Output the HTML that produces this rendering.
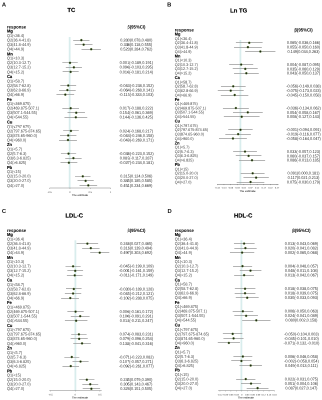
<!DOCTYPE html><html><head><meta charset="utf-8"><style>html,body{margin:0;padding:0;background:#fff;overflow:hidden;width:322px;height:400px}svg{display:block}text{font-family:'Liberation Sans', Arial, sans-serif;text-rendering:geometricPrecision}#wrap{position:absolute;left:0;top:0;width:644px;height:800px;transform:scale(0.5);transform-origin:0 0;will-change:transform}</style></head><body>
<div id="wrap">
<svg width="644" height="800" viewBox="0 0 644 800">
<rect width="644" height="800" fill="#fff"/>
<g>
<g transform="matrix(0.2,0,0,0.2,0,0)">
<g><text x="19" y="66" font-size="58" font-weight="bold" fill="#111">A</text><text x="713" y="121" font-size="59" font-weight="bold" fill="#000" text-anchor="middle" stroke="#000" stroke-width="1.5">TC</text><text transform="translate(70,282.7) scale(0.9259,1)" font-size="46.4" font-weight="bold" fill="#000">response</text><text transform="translate(1363,282.7) scale(0.9259,1)" font-size="46.4" font-weight="bold" fill="#000" text-anchor="middle">&#946;(95%CI)</text><line x1="696.6" y1="370" x2="696.6" y2="1880" stroke="#d9eded" stroke-width="18"/><text transform="translate(70,327) scale(0.9259,1)" font-size="43.2" font-weight="bold" fill="#000" stroke="#000" stroke-width="1.2">Mg</text><text transform="translate(70,369.6) scale(0.9259,1)" font-size="41" fill="#3a3a3a">Q1(&lt;36.4)</text><text transform="translate(70,415) scale(0.9259,1)" font-size="41" fill="#3a3a3a">Q2(36.4-41.8)</text><line x1="731.5" y1="405" x2="894.8" y2="405" stroke="#9a9a9a" stroke-width="6.5"/><circle cx="813.5" cy="401.2" r="11" fill="#1c2614" stroke="#8db35a" stroke-width="3"/><text transform="translate(1363,415) scale(0.9259,1)" font-size="41" fill="#2a2a2a" text-anchor="middle">0.280(0.078,0.480)</text><text transform="translate(70,460.4) scale(0.9259,1)" font-size="41" fill="#3a3a3a">Q3(41.8-44.9)</text><line x1="747.7" y1="445" x2="925.2" y2="445" stroke="#9a9a9a" stroke-width="6.5"/><circle cx="836.3" cy="446.6" r="11" fill="#1c2614" stroke="#8db35a" stroke-width="3"/><text transform="translate(1363,460.4) scale(0.9259,1)" font-size="41" fill="#2a2a2a" text-anchor="middle">0.336(0.118,0.555)</text><text transform="translate(70,505.8) scale(0.9259,1)" font-size="41" fill="#3a3a3a">Q4(&gt;44.9)</text><line x1="815.2" y1="495" x2="1009.3" y2="495" stroke="#9a9a9a" stroke-width="6.5"/><circle cx="912.2" cy="492" r="11" fill="#1c2614" stroke="#8db35a" stroke-width="3"/><text transform="translate(1363,505.8) scale(0.9259,1)" font-size="41" fill="#2a2a2a" text-anchor="middle">0.523(0.284,0.762)</text><text transform="translate(70,554) scale(0.9259,1)" font-size="43.2" font-weight="bold" fill="#000" stroke="#000" stroke-width="1.2">Mn</text><text transform="translate(70,596.6) scale(0.9259,1)" font-size="41" fill="#3a3a3a">Q1(&lt;10.3)</text><text transform="translate(70,642) scale(0.9259,1)" font-size="41" fill="#3a3a3a">Q2(10.3-12.7)</text><line x1="623" y1="625" x2="777.4" y2="625" stroke="#9a9a9a" stroke-width="6.5"/><circle cx="700.2" cy="628.2" r="11" fill="#1c2614" stroke="#8db35a" stroke-width="3"/><text transform="translate(1363,642) scale(0.9259,1)" font-size="41" fill="#2a2a2a" text-anchor="middle">0.001(-0.189,0.191)</text><text transform="translate(70,687.4) scale(0.9259,1)" font-size="41" fill="#3a3a3a">Q3(12.7-15.2)</text><line x1="658" y1="675" x2="819.6" y2="675" stroke="#9a9a9a" stroke-width="6.5"/><circle cx="738.8" cy="673.6" r="11" fill="#1c2614" stroke="#8db35a" stroke-width="3"/><text transform="translate(1363,687.4) scale(0.9259,1)" font-size="41" fill="#2a2a2a" text-anchor="middle">0.096(-0.103,0.295)</text><text transform="translate(70,732.8) scale(0.9259,1)" font-size="41" fill="#3a3a3a">Q4(&gt;15.2)</text><line x1="626.3" y1="715" x2="786.7" y2="715" stroke="#9a9a9a" stroke-width="6.5"/><circle cx="706.3" cy="719" r="11" fill="#1c2614" stroke="#8db35a" stroke-width="3"/><text transform="translate(1363,732.8) scale(0.9259,1)" font-size="41" fill="#2a2a2a" text-anchor="middle">0.016(-0.181,0.214)</text><text transform="translate(70,781) scale(0.9259,1)" font-size="43.2" font-weight="bold" fill="#000" stroke="#000" stroke-width="1.2">Ca</text><text transform="translate(70,823.6) scale(0.9259,1)" font-size="41" fill="#3a3a3a">Q1(&lt;58.7)</text><text transform="translate(70,869) scale(0.9259,1)" font-size="41" fill="#3a3a3a">Q2(58.7-62.8)</text><line x1="603.1" y1="855" x2="761.5" y2="855" stroke="#9a9a9a" stroke-width="6.5"/><circle cx="682.3" cy="855.2" r="11" fill="#1c2614" stroke="#8db35a" stroke-width="3"/><text transform="translate(1363,869) scale(0.9259,1)" font-size="41" fill="#2a2a2a" text-anchor="middle">-0.043(-0.238,0.152)</text><text transform="translate(70,914.4) scale(0.9259,1)" font-size="41" fill="#3a3a3a">Q3(62.8-66.9)</text><line x1="590.9" y1="905" x2="757.1" y2="905" stroke="#9a9a9a" stroke-width="6.5"/><circle cx="673.8" cy="900.6" r="11" fill="#1c2614" stroke="#8db35a" stroke-width="3"/><text transform="translate(1363,914.4) scale(0.9259,1)" font-size="41" fill="#2a2a2a" text-anchor="middle">-0.064(-0.268,0.141)</text><text transform="translate(70,959.8) scale(0.9259,1)" font-size="41" fill="#3a3a3a">Q4(&gt;66.9)</text><line x1="564.5" y1="945" x2="741.6" y2="945" stroke="#9a9a9a" stroke-width="6.5"/><circle cx="653.1" cy="946" r="11" fill="#1c2614" stroke="#8db35a" stroke-width="3"/><text transform="translate(1363,959.8) scale(0.9259,1)" font-size="41" fill="#2a2a2a" text-anchor="middle">-0.115(-0.333,0.103)</text><text transform="translate(70,1008) scale(0.9259,1)" font-size="43.2" font-weight="bold" fill="#000" stroke="#000" stroke-width="1.2">Fe</text><text transform="translate(70,1050.6) scale(0.9259,1)" font-size="41" fill="#3a3a3a">Q1(&lt;469.875)</text><text transform="translate(70,1096) scale(0.9259,1)" font-size="41" fill="#3a3a3a">Q2(469.875-507.1)</text><line x1="623.4" y1="1085" x2="790" y2="1085" stroke="#9a9a9a" stroke-width="6.5"/><circle cx="706.7" cy="1082.2" r="11" fill="#1c2614" stroke="#8db35a" stroke-width="3"/><text transform="translate(1363,1096) scale(0.9259,1)" font-size="41" fill="#2a2a2a" text-anchor="middle">0.017(-0.188,0.222)</text><text transform="translate(70,1141.4) scale(0.9259,1)" font-size="41" fill="#3a3a3a">Q3(507.1-544.55)</text><line x1="675" y1="1125" x2="849.7" y2="1125" stroke="#9a9a9a" stroke-width="6.5"/><circle cx="762.4" cy="1127.6" r="11" fill="#1c2614" stroke="#8db35a" stroke-width="3"/><text transform="translate(1363,1141.4) scale(0.9259,1)" font-size="41" fill="#2a2a2a" text-anchor="middle">0.154(-0.061,0.369)</text><text transform="translate(70,1186.8) scale(0.9259,1)" font-size="41" fill="#3a3a3a">Q4(&gt;544.55)</text><line x1="644.6" y1="1175" x2="872.4" y2="1175" stroke="#9a9a9a" stroke-width="6.5"/><circle cx="758.3" cy="1173" r="11" fill="#1c2614" stroke="#8db35a" stroke-width="3"/><text transform="translate(1363,1186.8) scale(0.9259,1)" font-size="41" fill="#2a2a2a" text-anchor="middle">0.144(-0.136,0.425)</text><text transform="translate(70,1235) scale(0.9259,1)" font-size="43.2" font-weight="bold" fill="#000" stroke="#000" stroke-width="1.2">Cu</text><text transform="translate(70,1277.6) scale(0.9259,1)" font-size="41" fill="#3a3a3a">Q1(&lt;797.675)</text><text transform="translate(70,1323) scale(0.9259,1)" font-size="41" fill="#3a3a3a">Q2(797.675-874.65)</text><line x1="631.6" y1="1305" x2="787.9" y2="1305" stroke="#9a9a9a" stroke-width="6.5"/><circle cx="709.5" cy="1309.2" r="11" fill="#1c2614" stroke="#8db35a" stroke-width="3"/><text transform="translate(1363,1323) scale(0.9259,1)" font-size="41" fill="#2a2a2a" text-anchor="middle">0.024(-0.168,0.217)</text><text transform="translate(70,1368.4) scale(0.9259,1)" font-size="41" fill="#3a3a3a">Q3(874.65-960.0)</text><line x1="599.9" y1="1355" x2="764" y2="1355" stroke="#9a9a9a" stroke-width="6.5"/><circle cx="681.9" cy="1354.6" r="11" fill="#1c2614" stroke="#8db35a" stroke-width="3"/><text transform="translate(1363,1368.4) scale(0.9259,1)" font-size="41" fill="#2a2a2a" text-anchor="middle">-0.044(-0.246,0.158)</text><text transform="translate(70,1413.8) scale(0.9259,1)" font-size="41" fill="#3a3a3a">Q4(&gt;960.0)</text><line x1="590.5" y1="1405" x2="769.3" y2="1405" stroke="#9a9a9a" stroke-width="6.5"/><circle cx="679.9" cy="1400" r="11" fill="#1c2614" stroke="#8db35a" stroke-width="3"/><text transform="translate(1363,1413.8) scale(0.9259,1)" font-size="41" fill="#2a2a2a" text-anchor="middle">-0.049(-0.269,0.171)</text><text transform="translate(70,1462) scale(0.9259,1)" font-size="43.2" font-weight="bold" fill="#000" stroke="#000" stroke-width="1.2">Zn</text><text transform="translate(70,1504.6) scale(0.9259,1)" font-size="41" fill="#3a3a3a">Q1(&lt;5.7)</text><text transform="translate(70,1550) scale(0.9259,1)" font-size="41" fill="#3a3a3a">Q2(5.7-6.3)</text><line x1="609.2" y1="1535" x2="761.5" y2="1535" stroke="#9a9a9a" stroke-width="6.5"/><circle cx="685.2" cy="1536.2" r="11" fill="#1c2614" stroke="#8db35a" stroke-width="3"/><text transform="translate(1363,1550) scale(0.9259,1)" font-size="41" fill="#2a2a2a" text-anchor="middle">-0.036(-0.223,0.152)</text><text transform="translate(70,1595.4) scale(0.9259,1)" font-size="41" fill="#3a3a3a">Q3(6.3-6.825)</text><line x1="652.3" y1="1585" x2="816.4" y2="1585" stroke="#9a9a9a" stroke-width="6.5"/><circle cx="734.3" cy="1581.6" r="11" fill="#1c2614" stroke="#8db35a" stroke-width="3"/><text transform="translate(1363,1595.4) scale(0.9259,1)" font-size="41" fill="#2a2a2a" text-anchor="middle">0.085(-0.117,0.287)</text><text transform="translate(70,1640.8) scale(0.9259,1)" font-size="41" fill="#3a3a3a">Q4(&gt;6.825)</text><line x1="604.7" y1="1625" x2="773.3" y2="1625" stroke="#9a9a9a" stroke-width="6.5"/><circle cx="688.8" cy="1627" r="11" fill="#1c2614" stroke="#8db35a" stroke-width="3"/><text transform="translate(1363,1640.8) scale(0.9259,1)" font-size="41" fill="#2a2a2a" text-anchor="middle">-0.027(-0.234,0.181)</text><text transform="translate(70,1689) scale(0.9259,1)" font-size="43.2" font-weight="bold" fill="#000" stroke="#000" stroke-width="1.2">Pb</text><text transform="translate(70,1731.6) scale(0.9259,1)" font-size="41" fill="#3a3a3a">Q1(&lt;15)</text><text transform="translate(70,1777) scale(0.9259,1)" font-size="41" fill="#3a3a3a">Q2(15.0-20.0)</text><line x1="750.2" y1="1765" x2="905.3" y2="1765" stroke="#9a9a9a" stroke-width="6.5"/><circle cx="827.8" cy="1763.2" r="11" fill="#1c2614" stroke="#8db35a" stroke-width="3"/><text transform="translate(1363,1777) scale(0.9259,1)" font-size="41" fill="#2a2a2a" text-anchor="middle">0.315(0.124,0.506)</text><text transform="translate(70,1822.4) scale(0.9259,1)" font-size="41" fill="#3a3a3a">Q3(20.0-27.0)</text><line x1="774.9" y1="1805" x2="937.4" y2="1805" stroke="#9a9a9a" stroke-width="6.5"/><circle cx="856.2" cy="1808.6" r="11" fill="#1c2614" stroke="#8db35a" stroke-width="3"/><text transform="translate(1363,1822.4) scale(0.9259,1)" font-size="41" fill="#2a2a2a" text-anchor="middle">0.385(0.185,0.585)</text><text transform="translate(70,1867.8) scale(0.9259,1)" font-size="41" fill="#3a3a3a">Q4(&gt;27.0)</text><line x1="794.9" y1="1855" x2="971.5" y2="1855" stroke="#9a9a9a" stroke-width="6.5"/><circle cx="883" cy="1854" r="11" fill="#1c2614" stroke="#8db35a" stroke-width="3"/><text transform="translate(1363,1867.8) scale(0.9259,1)" font-size="41" fill="#2a2a2a" text-anchor="middle">0.451(0.234,0.669)</text><line x1="496" y1="1880" x2="1106" y2="1880" stroke="#808080" stroke-width="5.5"/><line x1="496.7" y1="1880" x2="496.7" y2="1888" stroke="#666" stroke-width="4"/><text x="496.7" y="1929" font-size="24" fill="#333" text-anchor="middle">-0.5</text><line x1="699.8" y1="1880" x2="699.8" y2="1888" stroke="#666" stroke-width="4"/><text x="699.8" y="1929" font-size="24" fill="#333" text-anchor="middle">0</text><line x1="902.9" y1="1880" x2="902.9" y2="1888" stroke="#666" stroke-width="4"/><text x="902.9" y="1929" font-size="24" fill="#333" text-anchor="middle">0.5</text><line x1="1106" y1="1880" x2="1106" y2="1888" stroke="#666" stroke-width="4"/><text x="1106" y="1929" font-size="24" fill="#333" text-anchor="middle">1</text><text x="800" y="1960" font-size="28" fill="#000" text-anchor="middle">The estimate</text></g>
<g><text x="1671" y="66" font-size="58" font-weight="bold" fill="#111">B</text><text x="2387" y="124" font-size="59" font-weight="bold" fill="#000" text-anchor="middle" stroke="#000" stroke-width="1.5">Ln TG</text><text transform="translate(1747.5,315.2) scale(0.9259,1)" font-size="46.4" font-weight="bold" fill="#000">response</text><text transform="translate(3035,315.2) scale(0.9259,1)" font-size="46.4" font-weight="bold" fill="#000" text-anchor="middle">&#946;(95%CI)</text><line x1="2404" y1="400" x2="2404" y2="1843" stroke="#d9eded" stroke-width="18"/><text transform="translate(1747.5,357.2) scale(0.9259,1)" font-size="42.1" font-weight="bold" fill="#000" stroke="#000" stroke-width="1.2">Mg</text><text transform="translate(1747.5,397.9) scale(0.9259,1)" font-size="40" fill="#3a3a3a">Q1(&lt;36.4)</text><text transform="translate(1747.5,441.4) scale(0.9259,1)" font-size="40" fill="#3a3a3a">Q2(36.4-41.8)</text><line x1="2358.9" y1="425" x2="2626" y2="425" stroke="#9a9a9a" stroke-width="6.5"/><circle cx="2492.5" cy="428" r="11" fill="#1c2614" stroke="#8db35a" stroke-width="3"/><text transform="translate(3035,441.8) scale(0.9259,1)" font-size="41" fill="#2a2a2a" text-anchor="middle">0.065(-0.036,0.166)</text><text transform="translate(1747.5,484.9) scale(0.9259,1)" font-size="40" fill="#3a3a3a">Q3(41.8-44.9)</text><line x1="2340.4" y1="475" x2="2618.1" y2="475" stroke="#9a9a9a" stroke-width="6.5"/><circle cx="2479.2" cy="471.5" r="11" fill="#1c2614" stroke="#8db35a" stroke-width="3"/><text transform="translate(3035,485.3) scale(0.9259,1)" font-size="41" fill="#2a2a2a" text-anchor="middle">0.055(-0.050,0.160)</text><text transform="translate(1747.5,528.4) scale(0.9259,1)" font-size="40" fill="#3a3a3a">Q4(&gt;44.9)</text><line x1="2451.5" y1="515" x2="2754.3" y2="515" stroke="#9a9a9a" stroke-width="6.5"/><circle cx="2603.6" cy="515" r="11" fill="#1c2614" stroke="#8db35a" stroke-width="3"/><text transform="translate(3035,528.8) scale(0.9259,1)" font-size="41" fill="#2a2a2a" text-anchor="middle">0.149(0.034,0.263)</text><text transform="translate(1747.5,574.7) scale(0.9259,1)" font-size="42.1" font-weight="bold" fill="#000" stroke="#000" stroke-width="1.2">Mn</text><text transform="translate(1747.5,615.4) scale(0.9259,1)" font-size="40" fill="#3a3a3a">Q1(&lt;10.3)</text><text transform="translate(1747.5,658.9) scale(0.9259,1)" font-size="40" fill="#3a3a3a">Q2(10.3-12.7)</text><line x1="2291.4" y1="645" x2="2532.1" y2="645" stroke="#9a9a9a" stroke-width="6.5"/><circle cx="2411.8" cy="645.5" r="11" fill="#1c2614" stroke="#8db35a" stroke-width="3"/><text transform="translate(3035,659.3) scale(0.9259,1)" font-size="41" fill="#2a2a2a" text-anchor="middle">0.004(-0.087,0.095)</text><text transform="translate(1747.5,702.4) scale(0.9259,1)" font-size="40" fill="#3a3a3a">Q3(12.7-15.2)</text><line x1="2327.2" y1="685" x2="2577.1" y2="685" stroke="#9a9a9a" stroke-width="6.5"/><circle cx="2452.8" cy="689" r="11" fill="#1c2614" stroke="#8db35a" stroke-width="3"/><text transform="translate(3035,702.8) scale(0.9259,1)" font-size="41" fill="#2a2a2a" text-anchor="middle">0.035(-0.060,0.129)</text><text transform="translate(1747.5,745.9) scale(0.9259,1)" font-size="40" fill="#3a3a3a">Q4(&gt;15.2)</text><line x1="2340.4" y1="735" x2="2587.7" y2="735" stroke="#9a9a9a" stroke-width="6.5"/><circle cx="2463.4" cy="732.5" r="11" fill="#1c2614" stroke="#8db35a" stroke-width="3"/><text transform="translate(3035,746.3) scale(0.9259,1)" font-size="41" fill="#2a2a2a" text-anchor="middle">0.043(-0.050,0.137)</text><text transform="translate(1747.5,792.2) scale(0.9259,1)" font-size="42.1" font-weight="bold" fill="#000" stroke="#000" stroke-width="1.2">Ca</text><text transform="translate(1747.5,832.9) scale(0.9259,1)" font-size="40" fill="#3a3a3a">Q1(&lt;58.7)</text><text transform="translate(1747.5,876.4) scale(0.9259,1)" font-size="40" fill="#3a3a3a">Q2(58.7-62.8)</text><line x1="2209.4" y1="865" x2="2456.8" y2="865" stroke="#9a9a9a" stroke-width="6.5"/><circle cx="2332.4" cy="863" r="11" fill="#1c2614" stroke="#8db35a" stroke-width="3"/><text transform="translate(3035,876.8) scale(0.9259,1)" font-size="41" fill="#2a2a2a" text-anchor="middle">-0.056(-0.149,0.038)</text><text transform="translate(1747.5,919.9) scale(0.9259,1)" font-size="40" fill="#3a3a3a">Q3(62.8-66.9)</text><line x1="2177.7" y1="905" x2="2436.9" y2="905" stroke="#9a9a9a" stroke-width="6.5"/><circle cx="2307.3" cy="906.5" r="11" fill="#1c2614" stroke="#8db35a" stroke-width="3"/><text transform="translate(3035,920.3) scale(0.9259,1)" font-size="41" fill="#2a2a2a" text-anchor="middle">-0.075(-0.173,0.023)</text><text transform="translate(1747.5,963.4) scale(0.9259,1)" font-size="40" fill="#3a3a3a">Q4(&gt;66.9)</text><line x1="2208.1" y1="955" x2="2483.2" y2="955" stroke="#9a9a9a" stroke-width="6.5"/><circle cx="2347" cy="950" r="11" fill="#1c2614" stroke="#8db35a" stroke-width="3"/><text transform="translate(3035,963.8) scale(0.9259,1)" font-size="41" fill="#2a2a2a" text-anchor="middle">-0.045(-0.150,0.058)</text><text transform="translate(1747.5,1009.7) scale(0.9259,1)" font-size="42.1" font-weight="bold" fill="#000" stroke="#000" stroke-width="1.2">Fe</text><text transform="translate(1747.5,1050.4) scale(0.9259,1)" font-size="40" fill="#3a3a3a">Q1(&lt;469.875)</text><text transform="translate(1747.5,1093.9) scale(0.9259,1)" font-size="40" fill="#3a3a3a">Q2(469.875-507.1)</text><line x1="2229.3" y1="1085" x2="2488.5" y2="1085" stroke="#9a9a9a" stroke-width="6.5"/><circle cx="2358.9" cy="1080.5" r="11" fill="#1c2614" stroke="#8db35a" stroke-width="3"/><text transform="translate(3035,1094.3) scale(0.9259,1)" font-size="41" fill="#2a2a2a" text-anchor="middle">-0.036(-0.134,0.062)</text><text transform="translate(1747.5,1137.4) scale(0.9259,1)" font-size="40" fill="#3a3a3a">Q3(507.1-544.55)</text><line x1="2329.8" y1="1125" x2="2627.4" y2="1125" stroke="#9a9a9a" stroke-width="6.5"/><circle cx="2477.9" cy="1124" r="11" fill="#1c2614" stroke="#8db35a" stroke-width="3"/><text transform="translate(3035,1137.8) scale(0.9259,1)" font-size="41" fill="#2a2a2a" text-anchor="middle">0.054(-0.058,0.167)</text><text transform="translate(1747.5,1180.9) scale(0.9259,1)" font-size="40" fill="#3a3a3a">Q4(&gt;544.55)</text><line x1="2238.5" y1="1165" x2="2595.6" y2="1165" stroke="#9a9a9a" stroke-width="6.5"/><circle cx="2417.1" cy="1167.5" r="11" fill="#1c2614" stroke="#8db35a" stroke-width="3"/><text transform="translate(3035,1181.3) scale(0.9259,1)" font-size="41" fill="#2a2a2a" text-anchor="middle">0.008(-0.127,0.143)</text><text transform="translate(1747.5,1227.2) scale(0.9259,1)" font-size="42.1" font-weight="bold" fill="#000" stroke="#000" stroke-width="1.2">Cu</text><text transform="translate(1747.5,1267.9) scale(0.9259,1)" font-size="40" fill="#3a3a3a">Q1(&lt;797.675)</text><text transform="translate(1747.5,1311.4) scale(0.9259,1)" font-size="40" fill="#3a3a3a">Q2(797.675-874.65)</text><line x1="2282.2" y1="1295" x2="2526.8" y2="1295" stroke="#9a9a9a" stroke-width="6.5"/><circle cx="2405.2" cy="1298" r="11" fill="#1c2614" stroke="#8db35a" stroke-width="3"/><text transform="translate(3035,1311.8) scale(0.9259,1)" font-size="41" fill="#2a2a2a" text-anchor="middle">-0.001(-0.094,0.091)</text><text transform="translate(1747.5,1354.9) scale(0.9259,1)" font-size="40" fill="#3a3a3a">Q3(874.65-960.0)</text><line x1="2253.1" y1="1345" x2="2508.3" y2="1345" stroke="#9a9a9a" stroke-width="6.5"/><circle cx="2381.4" cy="1341.5" r="11" fill="#1c2614" stroke="#8db35a" stroke-width="3"/><text transform="translate(3035,1355.3) scale(0.9259,1)" font-size="41" fill="#2a2a2a" text-anchor="middle">-0.019(-0.116,0.077)</text><text transform="translate(1747.5,1398.4) scale(0.9259,1)" font-size="40" fill="#3a3a3a">Q4(&gt;960.0)</text><line x1="2189.6" y1="1385" x2="2468.7" y2="1385" stroke="#9a9a9a" stroke-width="6.5"/><circle cx="2329.8" cy="1385" r="11" fill="#1c2614" stroke="#8db35a" stroke-width="3"/><text transform="translate(3035,1398.8) scale(0.9259,1)" font-size="41" fill="#2a2a2a" text-anchor="middle">-0.058(-0.164,0.047)</text><text transform="translate(1747.5,1444.7) scale(0.9259,1)" font-size="42.1" font-weight="bold" fill="#000" stroke="#000" stroke-width="1.2">Zn</text><text transform="translate(1747.5,1485.4) scale(0.9259,1)" font-size="40" fill="#3a3a3a">Q1(&lt;5.7)</text><text transform="translate(1747.5,1528.9) scale(0.9259,1)" font-size="40" fill="#3a3a3a">Q2(5.7-6.3)</text><line x1="2331.1" y1="1515" x2="2569.2" y2="1515" stroke="#9a9a9a" stroke-width="6.5"/><circle cx="2450.1" cy="1515.5" r="11" fill="#1c2614" stroke="#8db35a" stroke-width="3"/><text transform="translate(3035,1529.3) scale(0.9259,1)" font-size="41" fill="#2a2a2a" text-anchor="middle">0.033(-0.057,0.123)</text><text transform="translate(1747.5,1572.4) scale(0.9259,1)" font-size="40" fill="#3a3a3a">Q3(6.3-6.825)</text><line x1="2357.6" y1="1555" x2="2614.1" y2="1555" stroke="#9a9a9a" stroke-width="6.5"/><circle cx="2485.8" cy="1559" r="11" fill="#1c2614" stroke="#8db35a" stroke-width="3"/><text transform="translate(3035,1572.8) scale(0.9259,1)" font-size="41" fill="#2a2a2a" text-anchor="middle">0.060(-0.037,0.157)</text><text transform="translate(1747.5,1615.9) scale(0.9259,1)" font-size="40" fill="#3a3a3a">Q4(&gt;6.825)</text><line x1="2389.3" y1="1605" x2="2651.2" y2="1605" stroke="#9a9a9a" stroke-width="6.5"/><circle cx="2520.2" cy="1602.5" r="11" fill="#1c2614" stroke="#8db35a" stroke-width="3"/><text transform="translate(3035,1616.3) scale(0.9259,1)" font-size="41" fill="#2a2a2a" text-anchor="middle">0.086(-0.013,0.185)</text><text transform="translate(1747.5,1662.2) scale(0.9259,1)" font-size="42.1" font-weight="bold" fill="#000" stroke="#000" stroke-width="1.2">Pb</text><text transform="translate(1747.5,1702.9) scale(0.9259,1)" font-size="40" fill="#3a3a3a">Q1(&lt;15)</text><text transform="translate(1747.5,1746.4) scale(0.9259,1)" font-size="40" fill="#3a3a3a">Q2(15.0-20.0)</text><line x1="2406.5" y1="1735" x2="2645.9" y2="1735" stroke="#9a9a9a" stroke-width="6.5"/><circle cx="2526.8" cy="1733" r="11" fill="#1c2614" stroke="#8db35a" stroke-width="3"/><text transform="translate(3035,1746.8) scale(0.9259,1)" font-size="41" fill="#2a2a2a" text-anchor="middle">0.091(0.000,0.181)</text><text transform="translate(1747.5,1789.9) scale(0.9259,1)" font-size="40" fill="#3a3a3a">Q3(20.0-27.0)</text><line x1="2434.3" y1="1775" x2="2688.2" y2="1775" stroke="#9a9a9a" stroke-width="6.5"/><circle cx="2561.2" cy="1776.5" r="11" fill="#1c2614" stroke="#8db35a" stroke-width="3"/><text transform="translate(3035,1790.3) scale(0.9259,1)" font-size="41" fill="#2a2a2a" text-anchor="middle">0.117(0.021,0.213)</text><text transform="translate(1747.5,1833.4) scale(0.9259,1)" font-size="40" fill="#3a3a3a">Q4(&gt;27.0)</text><line x1="2366.8" y1="1825" x2="2643.2" y2="1825" stroke="#9a9a9a" stroke-width="6.5"/><circle cx="2505.7" cy="1820" r="11" fill="#1c2614" stroke="#8db35a" stroke-width="3"/><text transform="translate(3035,1833.8) scale(0.9259,1)" font-size="41" fill="#2a2a2a" text-anchor="middle">0.075(-0.030,0.179)</text><line x1="2173" y1="1843" x2="2785" y2="1843" stroke="#808080" stroke-width="5.5"/><line x1="2173" y1="1843" x2="2173" y2="1851" stroke="#666" stroke-width="4"/><text x="2173" y="1887" font-size="22" fill="#333" text-anchor="middle">-0.18</text><line x1="2239.4" y1="1843" x2="2239.4" y2="1851" stroke="#666" stroke-width="4"/><text x="2239.4" y="1887" font-size="22" fill="#333" text-anchor="middle">-0.13</text><line x1="2305.8" y1="1843" x2="2305.8" y2="1851" stroke="#666" stroke-width="4"/><text x="2305.8" y="1887" font-size="22" fill="#333" text-anchor="middle">-0.08</text><line x1="2372.2" y1="1843" x2="2372.2" y2="1851" stroke="#666" stroke-width="4"/><text x="2372.2" y="1887" font-size="22" fill="#333" text-anchor="middle">-0.03</text><line x1="2438.6" y1="1843" x2="2438.6" y2="1851" stroke="#666" stroke-width="4"/><text x="2438.6" y="1887" font-size="22" fill="#333" text-anchor="middle">0.02</text><line x1="2505" y1="1843" x2="2505" y2="1851" stroke="#666" stroke-width="4"/><text x="2505" y="1887" font-size="22" fill="#333" text-anchor="middle">0.07</text><line x1="2571.4" y1="1843" x2="2571.4" y2="1851" stroke="#666" stroke-width="4"/><text x="2571.4" y="1887" font-size="22" fill="#333" text-anchor="middle">0.12</text><line x1="2637.8" y1="1843" x2="2637.8" y2="1851" stroke="#666" stroke-width="4"/><text x="2637.8" y="1887" font-size="22" fill="#333" text-anchor="middle">0.17</text><line x1="2704.2" y1="1843" x2="2704.2" y2="1851" stroke="#666" stroke-width="4"/><text x="2704.2" y="1887" font-size="22" fill="#333" text-anchor="middle">0.22</text><line x1="2770.6" y1="1843" x2="2770.6" y2="1851" stroke="#666" stroke-width="4"/><text x="2770.6" y="1887" font-size="22" fill="#333" text-anchor="middle">0.27</text><text x="2475" y="1919" font-size="28" fill="#000" text-anchor="middle">The estimate</text></g>
<g><text x="19" y="2131" font-size="58" font-weight="bold" fill="#111">C</text><text x="742" y="2174" font-size="59" font-weight="bold" fill="#000" text-anchor="middle" stroke="#000" stroke-width="1.5">LDL-C</text><text transform="translate(70,2317.7) scale(0.9259,1)" font-size="46.4" font-weight="bold" fill="#000">response</text><text transform="translate(1363,2317.7) scale(0.9259,1)" font-size="46.4" font-weight="bold" fill="#000" text-anchor="middle">&#946;(95%CI)</text><line x1="754" y1="2403" x2="754" y2="3906" stroke="#d9eded" stroke-width="18"/><text transform="translate(70,2361.9) scale(0.9259,1)" font-size="43.2" font-weight="bold" fill="#000" stroke="#000" stroke-width="1.2">Mg</text><text transform="translate(70,2404.5) scale(0.9259,1)" font-size="41" fill="#3a3a3a">Q1(&lt;36.4)</text><text transform="translate(70,2449.9) scale(0.9259,1)" font-size="41" fill="#3a3a3a">Q2(36.4-41.8)</text><line x1="766.1" y1="2435" x2="981.3" y2="2435" stroke="#9a9a9a" stroke-width="6.5"/><circle cx="873.7" cy="2436.1" r="11" fill="#1c2614" stroke="#8db35a" stroke-width="3"/><text transform="translate(1363,2449.9) scale(0.9259,1)" font-size="41" fill="#2a2a2a" text-anchor="middle">0.246(0.027,0.465)</text><text transform="translate(70,2495.2) scale(0.9259,1)" font-size="41" fill="#3a3a3a">Q3(41.8-44.9)</text><line x1="821.1" y1="2485" x2="995.6" y2="2485" stroke="#9a9a9a" stroke-width="6.5"/><circle cx="908.1" cy="2481.4" r="11" fill="#1c2614" stroke="#8db35a" stroke-width="3"/><text transform="translate(1363,2495.2) scale(0.9259,1)" font-size="41" fill="#2a2a2a" text-anchor="middle">0.316(0.139,0.494)</text><text transform="translate(70,2540.6) scale(0.9259,1)" font-size="41" fill="#3a3a3a">Q4(&gt;44.9)</text><line x1="901.7" y1="2525" x2="1092.9" y2="2525" stroke="#9a9a9a" stroke-width="6.5"/><circle cx="997.1" cy="2526.8" r="11" fill="#1c2614" stroke="#8db35a" stroke-width="3"/><text transform="translate(1363,2540.6) scale(0.9259,1)" font-size="41" fill="#2a2a2a" text-anchor="middle">0.497(0.303,0.692)</text><text transform="translate(70,2588.7) scale(0.9259,1)" font-size="43.2" font-weight="bold" fill="#000" stroke="#000" stroke-width="1.2">Mn</text><text transform="translate(70,2631.3) scale(0.9259,1)" font-size="41" fill="#3a3a3a">Q1(&lt;10.3)</text><text transform="translate(70,2676.7) scale(0.9259,1)" font-size="41" fill="#3a3a3a">Q2(10.3-12.7)</text><line x1="655" y1="2665" x2="806.4" y2="2665" stroke="#9a9a9a" stroke-width="6.5"/><circle cx="730.7" cy="2662.9" r="11" fill="#1c2614" stroke="#8db35a" stroke-width="3"/><text transform="translate(1363,2676.7) scale(0.9259,1)" font-size="41" fill="#2a2a2a" text-anchor="middle">-0.045(-0.199,0.109)</text><text transform="translate(70,2722) scale(0.9259,1)" font-size="41" fill="#3a3a3a">Q3(12.7-15.2)</text><line x1="673.7" y1="2705" x2="830.9" y2="2705" stroke="#9a9a9a" stroke-width="6.5"/><circle cx="752.3" cy="2708.2" r="11" fill="#1c2614" stroke="#8db35a" stroke-width="3"/><text transform="translate(1363,2722) scale(0.9259,1)" font-size="41" fill="#2a2a2a" text-anchor="middle">-0.001(-0.161,0.159)</text><text transform="translate(70,2767.4) scale(0.9259,1)" font-size="41" fill="#3a3a3a">Q4(&gt;15.2)</text><line x1="668.8" y1="2755" x2="826" y2="2755" stroke="#9a9a9a" stroke-width="6.5"/><circle cx="747.4" cy="2753.6" r="11" fill="#1c2614" stroke="#8db35a" stroke-width="3"/><text transform="translate(1363,2767.4) scale(0.9259,1)" font-size="41" fill="#2a2a2a" text-anchor="middle">-0.011(-0.171,0.149)</text><text transform="translate(70,2815.5) scale(0.9259,1)" font-size="43.2" font-weight="bold" fill="#000" stroke="#000" stroke-width="1.2">Ca</text><text transform="translate(70,2858.1) scale(0.9259,1)" font-size="41" fill="#3a3a3a">Q1(&lt;58.7)</text><text transform="translate(70,2903.5) scale(0.9259,1)" font-size="41" fill="#3a3a3a">Q2(58.7-62.8)</text><line x1="659.9" y1="2885" x2="815.7" y2="2885" stroke="#9a9a9a" stroke-width="6.5"/><circle cx="738.1" cy="2889.7" r="11" fill="#1c2614" stroke="#8db35a" stroke-width="3"/><text transform="translate(1363,2903.5) scale(0.9259,1)" font-size="41" fill="#2a2a2a" text-anchor="middle">-0.030(-0.189,0.128)</text><text transform="translate(70,2948.8) scale(0.9259,1)" font-size="41" fill="#3a3a3a">Q3(62.8-66.9)</text><line x1="648.6" y1="2935" x2="812.3" y2="2935" stroke="#9a9a9a" stroke-width="6.5"/><circle cx="730.7" cy="2935" r="11" fill="#1c2614" stroke="#8db35a" stroke-width="3"/><text transform="translate(1363,2948.8) scale(0.9259,1)" font-size="41" fill="#2a2a2a" text-anchor="middle">-0.045(-0.212,0.121)</text><text transform="translate(70,2994.2) scale(0.9259,1)" font-size="41" fill="#3a3a3a">Q4(&gt;66.9)</text><line x1="611.2" y1="2985" x2="789.7" y2="2985" stroke="#9a9a9a" stroke-width="6.5"/><circle cx="702.7" cy="2980.4" r="11" fill="#1c2614" stroke="#8db35a" stroke-width="3"/><text transform="translate(1363,2994.2) scale(0.9259,1)" font-size="41" fill="#2a2a2a" text-anchor="middle">-0.102(-0.288,0.075)</text><text transform="translate(70,3042.3) scale(0.9259,1)" font-size="43.2" font-weight="bold" fill="#000" stroke="#000" stroke-width="1.2">Fe</text><text transform="translate(70,3084.9) scale(0.9259,1)" font-size="41" fill="#3a3a3a">Q1(&lt;469.875)</text><text transform="translate(70,3130.3) scale(0.9259,1)" font-size="41" fill="#3a3a3a">Q2(469.875-507.1)</text><line x1="673.7" y1="3115" x2="837.3" y2="3115" stroke="#9a9a9a" stroke-width="6.5"/><circle cx="755.7" cy="3116.5" r="11" fill="#1c2614" stroke="#8db35a" stroke-width="3"/><text transform="translate(1363,3130.3) scale(0.9259,1)" font-size="41" fill="#2a2a2a" text-anchor="middle">0.006(-0.161,0.172)</text><text transform="translate(70,3175.6) scale(0.9259,1)" font-size="41" fill="#3a3a3a">Q3(507.1-544.55)</text><line x1="708.1" y1="3165" x2="895.8" y2="3165" stroke="#9a9a9a" stroke-width="6.5"/><circle cx="802" cy="3161.8" r="11" fill="#1c2614" stroke="#8db35a" stroke-width="3"/><text transform="translate(1363,3175.6) scale(0.9259,1)" font-size="41" fill="#2a2a2a" text-anchor="middle">0.100(-0.091,0.291)</text><text transform="translate(70,3221) scale(0.9259,1)" font-size="41" fill="#3a3a3a">Q4(&gt;544.55)</text><line x1="649.1" y1="3205" x2="874.2" y2="3205" stroke="#9a9a9a" stroke-width="6.5"/><circle cx="761.6" cy="3207.2" r="11" fill="#1c2614" stroke="#8db35a" stroke-width="3"/><text transform="translate(1363,3221) scale(0.9259,1)" font-size="41" fill="#2a2a2a" text-anchor="middle">0.018(-0.211,0.247)</text><text transform="translate(70,3269.1) scale(0.9259,1)" font-size="43.2" font-weight="bold" fill="#000" stroke="#000" stroke-width="1.2">Cu</text><text transform="translate(70,3311.7) scale(0.9259,1)" font-size="41" fill="#3a3a3a">Q1(&lt;797.675)</text><text transform="translate(70,3357.1) scale(0.9259,1)" font-size="41" fill="#3a3a3a">Q2(797.675-874.65)</text><line x1="712" y1="3345" x2="866.3" y2="3345" stroke="#9a9a9a" stroke-width="6.5"/><circle cx="789.2" cy="3343.3" r="11" fill="#1c2614" stroke="#8db35a" stroke-width="3"/><text transform="translate(1363,3357.1) scale(0.9259,1)" font-size="41" fill="#2a2a2a" text-anchor="middle">0.074(-0.083,0.231)</text><text transform="translate(70,3402.4) scale(0.9259,1)" font-size="41" fill="#3a3a3a">Q3(874.65-960.0)</text><line x1="705.6" y1="3385" x2="877.6" y2="3385" stroke="#9a9a9a" stroke-width="6.5"/><circle cx="791.6" cy="3388.6" r="11" fill="#1c2614" stroke="#8db35a" stroke-width="3"/><text transform="translate(1363,3402.4) scale(0.9259,1)" font-size="41" fill="#2a2a2a" text-anchor="middle">0.079(-0.096,0.254)</text><text transform="translate(70,3447.8) scale(0.9259,1)" font-size="41" fill="#3a3a3a">Q4(&gt;960.0)</text><line x1="732.6" y1="3435" x2="908.1" y2="3435" stroke="#9a9a9a" stroke-width="6.5"/><circle cx="820.6" cy="3434" r="11" fill="#1c2614" stroke="#8db35a" stroke-width="3"/><text transform="translate(1363,3447.8) scale(0.9259,1)" font-size="41" fill="#2a2a2a" text-anchor="middle">0.138(-0.041,0.316)</text><text transform="translate(70,3495.9) scale(0.9259,1)" font-size="43.2" font-weight="bold" fill="#000" stroke="#000" stroke-width="1.2">Zn</text><text transform="translate(70,3538.5) scale(0.9259,1)" font-size="41" fill="#3a3a3a">Q1(&lt;5.7)</text><text transform="translate(70,3583.9) scale(0.9259,1)" font-size="41" fill="#3a3a3a">Q2(5.7-6.3)</text><line x1="643.2" y1="3575" x2="793.1" y2="3575" stroke="#9a9a9a" stroke-width="6.5"/><circle cx="717.9" cy="3570.1" r="11" fill="#1c2614" stroke="#8db35a" stroke-width="3"/><text transform="translate(1363,3583.9) scale(0.9259,1)" font-size="41" fill="#2a2a2a" text-anchor="middle">-0.071(-0.223,0.082)</text><text transform="translate(70,3629.2) scale(0.9259,1)" font-size="41" fill="#3a3a3a">Q3(6.3-6.825)</text><line x1="724.8" y1="3615" x2="886" y2="3615" stroke="#9a9a9a" stroke-width="6.5"/><circle cx="805.4" cy="3615.4" r="11" fill="#1c2614" stroke="#8db35a" stroke-width="3"/><text transform="translate(1363,3629.2) scale(0.9259,1)" font-size="41" fill="#2a2a2a" text-anchor="middle">0.107(-0.057,0.271)</text><text transform="translate(70,3674.6) scale(0.9259,1)" font-size="41" fill="#3a3a3a">Q4(&gt;6.825)</text><line x1="624.5" y1="3665" x2="790.6" y2="3665" stroke="#9a9a9a" stroke-width="6.5"/><circle cx="707.6" cy="3660.8" r="11" fill="#1c2614" stroke="#8db35a" stroke-width="3"/><text transform="translate(1363,3674.6) scale(0.9259,1)" font-size="41" fill="#2a2a2a" text-anchor="middle">-0.092(-0.261,0.077)</text><text transform="translate(70,3722.7) scale(0.9259,1)" font-size="43.2" font-weight="bold" fill="#000" stroke="#000" stroke-width="1.2">Pb</text><text transform="translate(70,3765.3) scale(0.9259,1)" font-size="41" fill="#3a3a3a">Q1(&lt;15)</text><text transform="translate(70,3810.7) scale(0.9259,1)" font-size="41" fill="#3a3a3a">Q2(15.0-20.0)</text><line x1="791.6" y1="3795" x2="944.5" y2="3795" stroke="#9a9a9a" stroke-width="6.5"/><circle cx="868.3" cy="3796.9" r="11" fill="#1c2614" stroke="#8db35a" stroke-width="3"/><text transform="translate(1363,3810.7) scale(0.9259,1)" font-size="41" fill="#2a2a2a" text-anchor="middle">0.235(0.079,0.390)</text><text transform="translate(70,3856) scale(0.9259,1)" font-size="41" fill="#3a3a3a">Q3(20.0-27.0)</text><line x1="823.1" y1="3845" x2="982.3" y2="3845" stroke="#9a9a9a" stroke-width="6.5"/><circle cx="902.7" cy="3842.2" r="11" fill="#1c2614" stroke="#8db35a" stroke-width="3"/><text transform="translate(1363,3856) scale(0.9259,1)" font-size="41" fill="#2a2a2a" text-anchor="middle">0.305(0.143,0.467)</text><text transform="translate(70,3901.4) scale(0.9259,1)" font-size="41" fill="#3a3a3a">Q4(&gt;27.0)</text><line x1="827" y1="3885" x2="1001" y2="3885" stroke="#9a9a9a" stroke-width="6.5"/><circle cx="914" cy="3887.6" r="11" fill="#1c2614" stroke="#8db35a" stroke-width="3"/><text transform="translate(1363,3901.4) scale(0.9259,1)" font-size="41" fill="#2a2a2a" text-anchor="middle">0.328(0.151,0.505)</text><line x1="493" y1="3906" x2="1017" y2="3906" stroke="#808080" stroke-width="5.5"/><line x1="507" y1="3906" x2="507" y2="3914" stroke="#666" stroke-width="4"/><text x="507" y="3956" font-size="24" fill="#333" text-anchor="middle">-0.5</text><line x1="752.8" y1="3906" x2="752.8" y2="3914" stroke="#666" stroke-width="4"/><text x="752.8" y="3956" font-size="24" fill="#333" text-anchor="middle">0</text><line x1="998.6" y1="3906" x2="998.6" y2="3914" stroke="#666" stroke-width="4"/><text x="998.6" y="3956" font-size="24" fill="#333" text-anchor="middle">0.5</text><text x="800" y="3984" font-size="28" fill="#000" text-anchor="middle">The estimate</text></g>
<g><text x="1675" y="2131" font-size="58" font-weight="bold" fill="#111">D</text><text x="2432" y="2177" font-size="59" font-weight="bold" fill="#000" text-anchor="middle" stroke="#000" stroke-width="1.5">HDL-C</text><text transform="translate(1747.5,2317.7) scale(0.9259,1)" font-size="46.4" font-weight="bold" fill="#000">response</text><text transform="translate(3014,2317.7) scale(0.9259,1)" font-size="46.4" font-weight="bold" fill="#000" text-anchor="middle">&#946;(95%CI)</text><line x1="2414" y1="2403" x2="2414" y2="3906" stroke="#d9eded" stroke-width="18"/><text transform="translate(1747.5,2361.7) scale(0.9259,1)" font-size="43.2" font-weight="bold" fill="#000" stroke="#000" stroke-width="1.2">Mg</text><text transform="translate(1747.5,2404.1) scale(0.9259,1)" font-size="41" fill="#3a3a3a">Q1(&lt;36.4)</text><text transform="translate(1747.5,2449.3) scale(0.9259,1)" font-size="41" fill="#3a3a3a">Q2(36.4-41.8)</text><line x1="2339.5" y1="2435" x2="2543.1" y2="2435" stroke="#9a9a9a" stroke-width="6.5"/><circle cx="2441.3" cy="2435.5" r="11" fill="#1c2614" stroke="#8db35a" stroke-width="3"/><text transform="translate(3014,2449.3) scale(0.9259,1)" font-size="41" fill="#2a2a2a" text-anchor="middle">0.013(-0.043,0.069)</text><text transform="translate(1747.5,2494.5) scale(0.9259,1)" font-size="41" fill="#3a3a3a">Q3(41.8-44.9)</text><line x1="2343.2" y1="2485" x2="2566.8" y2="2485" stroke="#9a9a9a" stroke-width="6.5"/><circle cx="2454.1" cy="2480.7" r="11" fill="#1c2614" stroke="#8db35a" stroke-width="3"/><text transform="translate(3014,2494.5) scale(0.9259,1)" font-size="41" fill="#2a2a2a" text-anchor="middle">0.020(-0.041,0.082)</text><text transform="translate(1747.5,2539.6) scale(0.9259,1)" font-size="41" fill="#3a3a3a">Q4(&gt;44.9)</text><line x1="2299.5" y1="2525" x2="2541.3" y2="2525" stroke="#9a9a9a" stroke-width="6.5"/><circle cx="2421.3" cy="2525.8" r="11" fill="#1c2614" stroke="#8db35a" stroke-width="3"/><text transform="translate(3014,2539.6) scale(0.9259,1)" font-size="41" fill="#2a2a2a" text-anchor="middle">0.002(-0.065,0.068)</text><text transform="translate(1747.5,2587.6) scale(0.9259,1)" font-size="43.2" font-weight="bold" fill="#000" stroke="#000" stroke-width="1.2">Mn</text><text transform="translate(1747.5,2630) scale(0.9259,1)" font-size="41" fill="#3a3a3a">Q1(&lt;10.3)</text><text transform="translate(1747.5,2675.1) scale(0.9259,1)" font-size="41" fill="#3a3a3a">Q2(10.3-12.7)</text><line x1="2330.4" y1="2665" x2="2521.3" y2="2665" stroke="#9a9a9a" stroke-width="6.5"/><circle cx="2425" cy="2661.4" r="11" fill="#1c2614" stroke="#8db35a" stroke-width="3"/><text transform="translate(3014,2675.1) scale(0.9259,1)" font-size="41" fill="#2a2a2a" text-anchor="middle">0.004(-0.048,0.057)</text><text transform="translate(1747.5,2720.3) scale(0.9259,1)" font-size="41" fill="#3a3a3a">Q3(12.7-15.2)</text><line x1="2397.7" y1="2705" x2="2614" y2="2705" stroke="#9a9a9a" stroke-width="6.5"/><circle cx="2505" cy="2706.5" r="11" fill="#1c2614" stroke="#8db35a" stroke-width="3"/><text transform="translate(3014,2720.3) scale(0.9259,1)" font-size="41" fill="#2a2a2a" text-anchor="middle">0.048(-0.011,0.108)</text><text transform="translate(1747.5,2765.5) scale(0.9259,1)" font-size="41" fill="#3a3a3a">Q4(&gt;15.2)</text><line x1="2341.3" y1="2755" x2="2539.5" y2="2755" stroke="#9a9a9a" stroke-width="6.5"/><circle cx="2441.3" cy="2751.7" r="11" fill="#1c2614" stroke="#8db35a" stroke-width="3"/><text transform="translate(3014,2765.5) scale(0.9259,1)" font-size="41" fill="#2a2a2a" text-anchor="middle">0.013(-0.042,0.067)</text><text transform="translate(1747.5,2813.4) scale(0.9259,1)" font-size="43.2" font-weight="bold" fill="#000" stroke="#000" stroke-width="1.2">Ca</text><text transform="translate(1747.5,2855.8) scale(0.9259,1)" font-size="41" fill="#3a3a3a">Q1(&lt;58.7)</text><text transform="translate(1747.5,2901) scale(0.9259,1)" font-size="41" fill="#3a3a3a">Q2(58.7-62.8)</text><line x1="2348.6" y1="2885" x2="2554.1" y2="2885" stroke="#9a9a9a" stroke-width="6.5"/><circle cx="2450.4" cy="2887.2" r="11" fill="#1c2614" stroke="#8db35a" stroke-width="3"/><text transform="translate(3014,2901) scale(0.9259,1)" font-size="41" fill="#2a2a2a" text-anchor="middle">0.018(-0.038,0.075)</text><text transform="translate(1747.5,2946.2) scale(0.9259,1)" font-size="41" fill="#3a3a3a">Q3(62.8-66.9)</text><line x1="2346.8" y1="2935" x2="2554.1" y2="2935" stroke="#9a9a9a" stroke-width="6.5"/><circle cx="2450.4" cy="2932.4" r="11" fill="#1c2614" stroke="#8db35a" stroke-width="3"/><text transform="translate(3014,2946.2) scale(0.9259,1)" font-size="41" fill="#2a2a2a" text-anchor="middle">0.018(-0.039,0.075)</text><text transform="translate(1747.5,2991.3) scale(0.9259,1)" font-size="41" fill="#3a3a3a">Q4(&gt;66.9)</text><line x1="2357.7" y1="2975" x2="2586.8" y2="2975" stroke="#9a9a9a" stroke-width="6.5"/><circle cx="2472.2" cy="2977.6" r="11" fill="#1c2614" stroke="#8db35a" stroke-width="3"/><text transform="translate(3014,2991.3) scale(0.9259,1)" font-size="41" fill="#2a2a2a" text-anchor="middle">0.030(-0.033,0.093)</text><text transform="translate(1747.5,3039.3) scale(0.9259,1)" font-size="43.2" font-weight="bold" fill="#000" stroke="#000" stroke-width="1.2">Fe</text><text transform="translate(1747.5,3081.7) scale(0.9259,1)" font-size="41" fill="#3a3a3a">Q1(&lt;469.875)</text><text transform="translate(1747.5,3126.8) scale(0.9259,1)" font-size="41" fill="#3a3a3a">Q2(469.875-507.1)</text><line x1="2326.8" y1="3115" x2="2532.2" y2="3115" stroke="#9a9a9a" stroke-width="6.5"/><circle cx="2428.6" cy="3113.1" r="11" fill="#1c2614" stroke="#8db35a" stroke-width="3"/><text transform="translate(3014,3126.8) scale(0.9259,1)" font-size="41" fill="#2a2a2a" text-anchor="middle">0.006(-0.050,0.063)</text><text transform="translate(1747.5,3172) scale(0.9259,1)" font-size="41" fill="#3a3a3a">Q3(507.1-544.55)</text><line x1="2343.2" y1="3155" x2="2579.5" y2="3155" stroke="#9a9a9a" stroke-width="6.5"/><circle cx="2461.3" cy="3158.2" r="11" fill="#1c2614" stroke="#8db35a" stroke-width="3"/><text transform="translate(3014,3172) scale(0.9259,1)" font-size="41" fill="#2a2a2a" text-anchor="middle">0.024(-0.041,0.089)</text><text transform="translate(1747.5,3217.2) scale(0.9259,1)" font-size="41" fill="#3a3a3a">Q4(&gt;544.55)</text><line x1="2421.3" y1="3205" x2="2704.9" y2="3205" stroke="#9a9a9a" stroke-width="6.5"/><circle cx="2563.1" cy="3203.4" r="11" fill="#1c2614" stroke="#8db35a" stroke-width="3"/><text transform="translate(3014,3217.2) scale(0.9259,1)" font-size="41" fill="#2a2a2a" text-anchor="middle">0.080(0.002,0.158)</text><text transform="translate(1747.5,3265.1) scale(0.9259,1)" font-size="43.2" font-weight="bold" fill="#000" stroke="#000" stroke-width="1.2">Cu</text><text transform="translate(1747.5,3307.5) scale(0.9259,1)" font-size="41" fill="#3a3a3a">Q1(&lt;797.675)</text><text transform="translate(1747.5,3352.7) scale(0.9259,1)" font-size="41" fill="#3a3a3a">Q2(797.675-874.65)</text><line x1="2228.6" y1="3335" x2="2423.2" y2="3335" stroke="#9a9a9a" stroke-width="6.5"/><circle cx="2326.8" cy="3338.9" r="11" fill="#1c2614" stroke="#8db35a" stroke-width="3"/><text transform="translate(3014,3352.7) scale(0.9259,1)" font-size="41" fill="#2a2a2a" text-anchor="middle">-0.050(-0.104,0.003)</text><text transform="translate(1747.5,3397.9) scale(0.9259,1)" font-size="41" fill="#3a3a3a">Q3(874.65-960.0)</text><line x1="2234.1" y1="3385" x2="2435.9" y2="3385" stroke="#9a9a9a" stroke-width="6.5"/><circle cx="2335.9" cy="3384.1" r="11" fill="#1c2614" stroke="#8db35a" stroke-width="3"/><text transform="translate(3014,3397.9) scale(0.9259,1)" font-size="41" fill="#2a2a2a" text-anchor="middle">-0.045(-0.101,0.010)</text><text transform="translate(1747.5,3443) scale(0.9259,1)" font-size="41" fill="#3a3a3a">Q4(&gt;960.0)</text><line x1="2177.7" y1="3425" x2="2399.5" y2="3425" stroke="#9a9a9a" stroke-width="6.5"/><circle cx="2288.6" cy="3429.2" r="11" fill="#1c2614" stroke="#8db35a" stroke-width="3"/><text transform="translate(3014,3443) scale(0.9259,1)" font-size="41" fill="#2a2a2a" text-anchor="middle">-0.071(-0.132,-0.010)</text><text transform="translate(1747.5,3491) scale(0.9259,1)" font-size="43.2" font-weight="bold" fill="#000" stroke="#000" stroke-width="1.2">Zn</text><text transform="translate(1747.5,3533.4) scale(0.9259,1)" font-size="41" fill="#3a3a3a">Q1(&lt;5.7)</text><text transform="translate(1747.5,3578.5) scale(0.9259,1)" font-size="41" fill="#3a3a3a">Q2(5.7-6.3)</text><line x1="2334.1" y1="3565" x2="2523.1" y2="3565" stroke="#9a9a9a" stroke-width="6.5"/><circle cx="2428.6" cy="3564.8" r="11" fill="#1c2614" stroke="#8db35a" stroke-width="3"/><text transform="translate(3014,3578.5) scale(0.9259,1)" font-size="41" fill="#2a2a2a" text-anchor="middle">0.006(-0.046,0.058)</text><text transform="translate(1747.5,3623.7) scale(0.9259,1)" font-size="41" fill="#3a3a3a">Q3(6.3-6.825)</text><line x1="2312.3" y1="3605" x2="2515.9" y2="3605" stroke="#9a9a9a" stroke-width="6.5"/><circle cx="2414.1" cy="3609.9" r="11" fill="#1c2614" stroke="#8db35a" stroke-width="3"/><text transform="translate(3014,3623.7) scale(0.9259,1)" font-size="41" fill="#2a2a2a" text-anchor="middle">-0.002(-0.058,0.054)</text><text transform="translate(1747.5,3668.9) scale(0.9259,1)" font-size="41" fill="#3a3a3a">Q4(&gt;6.825)</text><line x1="2394.1" y1="3655" x2="2619.5" y2="3655" stroke="#9a9a9a" stroke-width="6.5"/><circle cx="2506.8" cy="3655.1" r="11" fill="#1c2614" stroke="#8db35a" stroke-width="3"/><text transform="translate(3014,3668.9) scale(0.9259,1)" font-size="41" fill="#2a2a2a" text-anchor="middle">0.049(-0.013,0.111)</text><text transform="translate(1747.5,3716.8) scale(0.9259,1)" font-size="43.2" font-weight="bold" fill="#000" stroke="#000" stroke-width="1.2">Pb</text><text transform="translate(1747.5,3759.2) scale(0.9259,1)" font-size="41" fill="#3a3a3a">Q1(&lt;15)</text><text transform="translate(1747.5,3804.4) scale(0.9259,1)" font-size="41" fill="#3a3a3a">Q2(15.0-20.0)</text><line x1="2361.3" y1="3795" x2="2554.1" y2="3795" stroke="#9a9a9a" stroke-width="6.5"/><circle cx="2457.7" cy="3790.6" r="11" fill="#1c2614" stroke="#8db35a" stroke-width="3"/><text transform="translate(3014,3804.4) scale(0.9259,1)" font-size="41" fill="#2a2a2a" text-anchor="middle">0.022(-0.031,0.075)</text><text transform="translate(1747.5,3849.6) scale(0.9259,1)" font-size="41" fill="#3a3a3a">Q3(20.0-27.0)</text><line x1="2410.4" y1="3835" x2="2610.4" y2="3835" stroke="#9a9a9a" stroke-width="6.5"/><circle cx="2510.4" cy="3835.8" r="11" fill="#1c2614" stroke="#8db35a" stroke-width="3"/><text transform="translate(3014,3849.6) scale(0.9259,1)" font-size="41" fill="#2a2a2a" text-anchor="middle">0.051(-0.004,0.106)</text><text transform="translate(1747.5,3894.7) scale(0.9259,1)" font-size="41" fill="#3a3a3a">Q4(&gt;27.0)</text><line x1="2466.8" y1="3885" x2="2684.9" y2="3885" stroke="#9a9a9a" stroke-width="6.5"/><circle cx="2575.9" cy="3881" r="11" fill="#1c2614" stroke="#8db35a" stroke-width="3"/><text transform="translate(3014,3894.7) scale(0.9259,1)" font-size="41" fill="#2a2a2a" text-anchor="middle">0.087(0.027,0.147)</text><line x1="2182" y1="3906" x2="2745" y2="3906" stroke="#808080" stroke-width="5.5"/><line x1="2199.5" y1="3906" x2="2199.5" y2="3914" stroke="#666" stroke-width="4"/><text x="2199.5" y="3957" font-size="22" fill="#333" text-anchor="middle">-0.12</text><line x1="2254.1" y1="3906" x2="2254.1" y2="3914" stroke="#666" stroke-width="4"/><text x="2254.1" y="3957" font-size="22" fill="#333" text-anchor="middle">-0.09</text><line x1="2308.6" y1="3906" x2="2308.6" y2="3914" stroke="#666" stroke-width="4"/><text x="2308.6" y="3957" font-size="22" fill="#333" text-anchor="middle">-0.06</text><line x1="2363.2" y1="3906" x2="2363.2" y2="3914" stroke="#666" stroke-width="4"/><text x="2363.2" y="3957" font-size="22" fill="#333" text-anchor="middle">-0.03</text><line x1="2417.7" y1="3906" x2="2417.7" y2="3914" stroke="#666" stroke-width="4"/><text x="2417.7" y="3957" font-size="22" fill="#333" text-anchor="middle">0</text><line x1="2472.2" y1="3906" x2="2472.2" y2="3914" stroke="#666" stroke-width="4"/><text x="2472.2" y="3957" font-size="22" fill="#333" text-anchor="middle">0.03</text><line x1="2526.8" y1="3906" x2="2526.8" y2="3914" stroke="#666" stroke-width="4"/><text x="2526.8" y="3957" font-size="22" fill="#333" text-anchor="middle">0.06</text><line x1="2581.3" y1="3906" x2="2581.3" y2="3914" stroke="#666" stroke-width="4"/><text x="2581.3" y="3957" font-size="22" fill="#333" text-anchor="middle">0.09</text><line x1="2635.9" y1="3906" x2="2635.9" y2="3914" stroke="#666" stroke-width="4"/><text x="2635.9" y="3957" font-size="22" fill="#333" text-anchor="middle">0.12</text><line x1="2690.4" y1="3906" x2="2690.4" y2="3914" stroke="#666" stroke-width="4"/><text x="2690.4" y="3957" font-size="22" fill="#333" text-anchor="middle">0.15</text><line x1="2744.9" y1="3906" x2="2744.9" y2="3914" stroke="#666" stroke-width="4"/><text x="2744.9" y="3957" font-size="22" fill="#333" text-anchor="middle">0.18</text><text x="2459" y="3986" font-size="28" fill="#000" text-anchor="middle">The estimate</text></g>
</g></g></svg></div></body></html>
